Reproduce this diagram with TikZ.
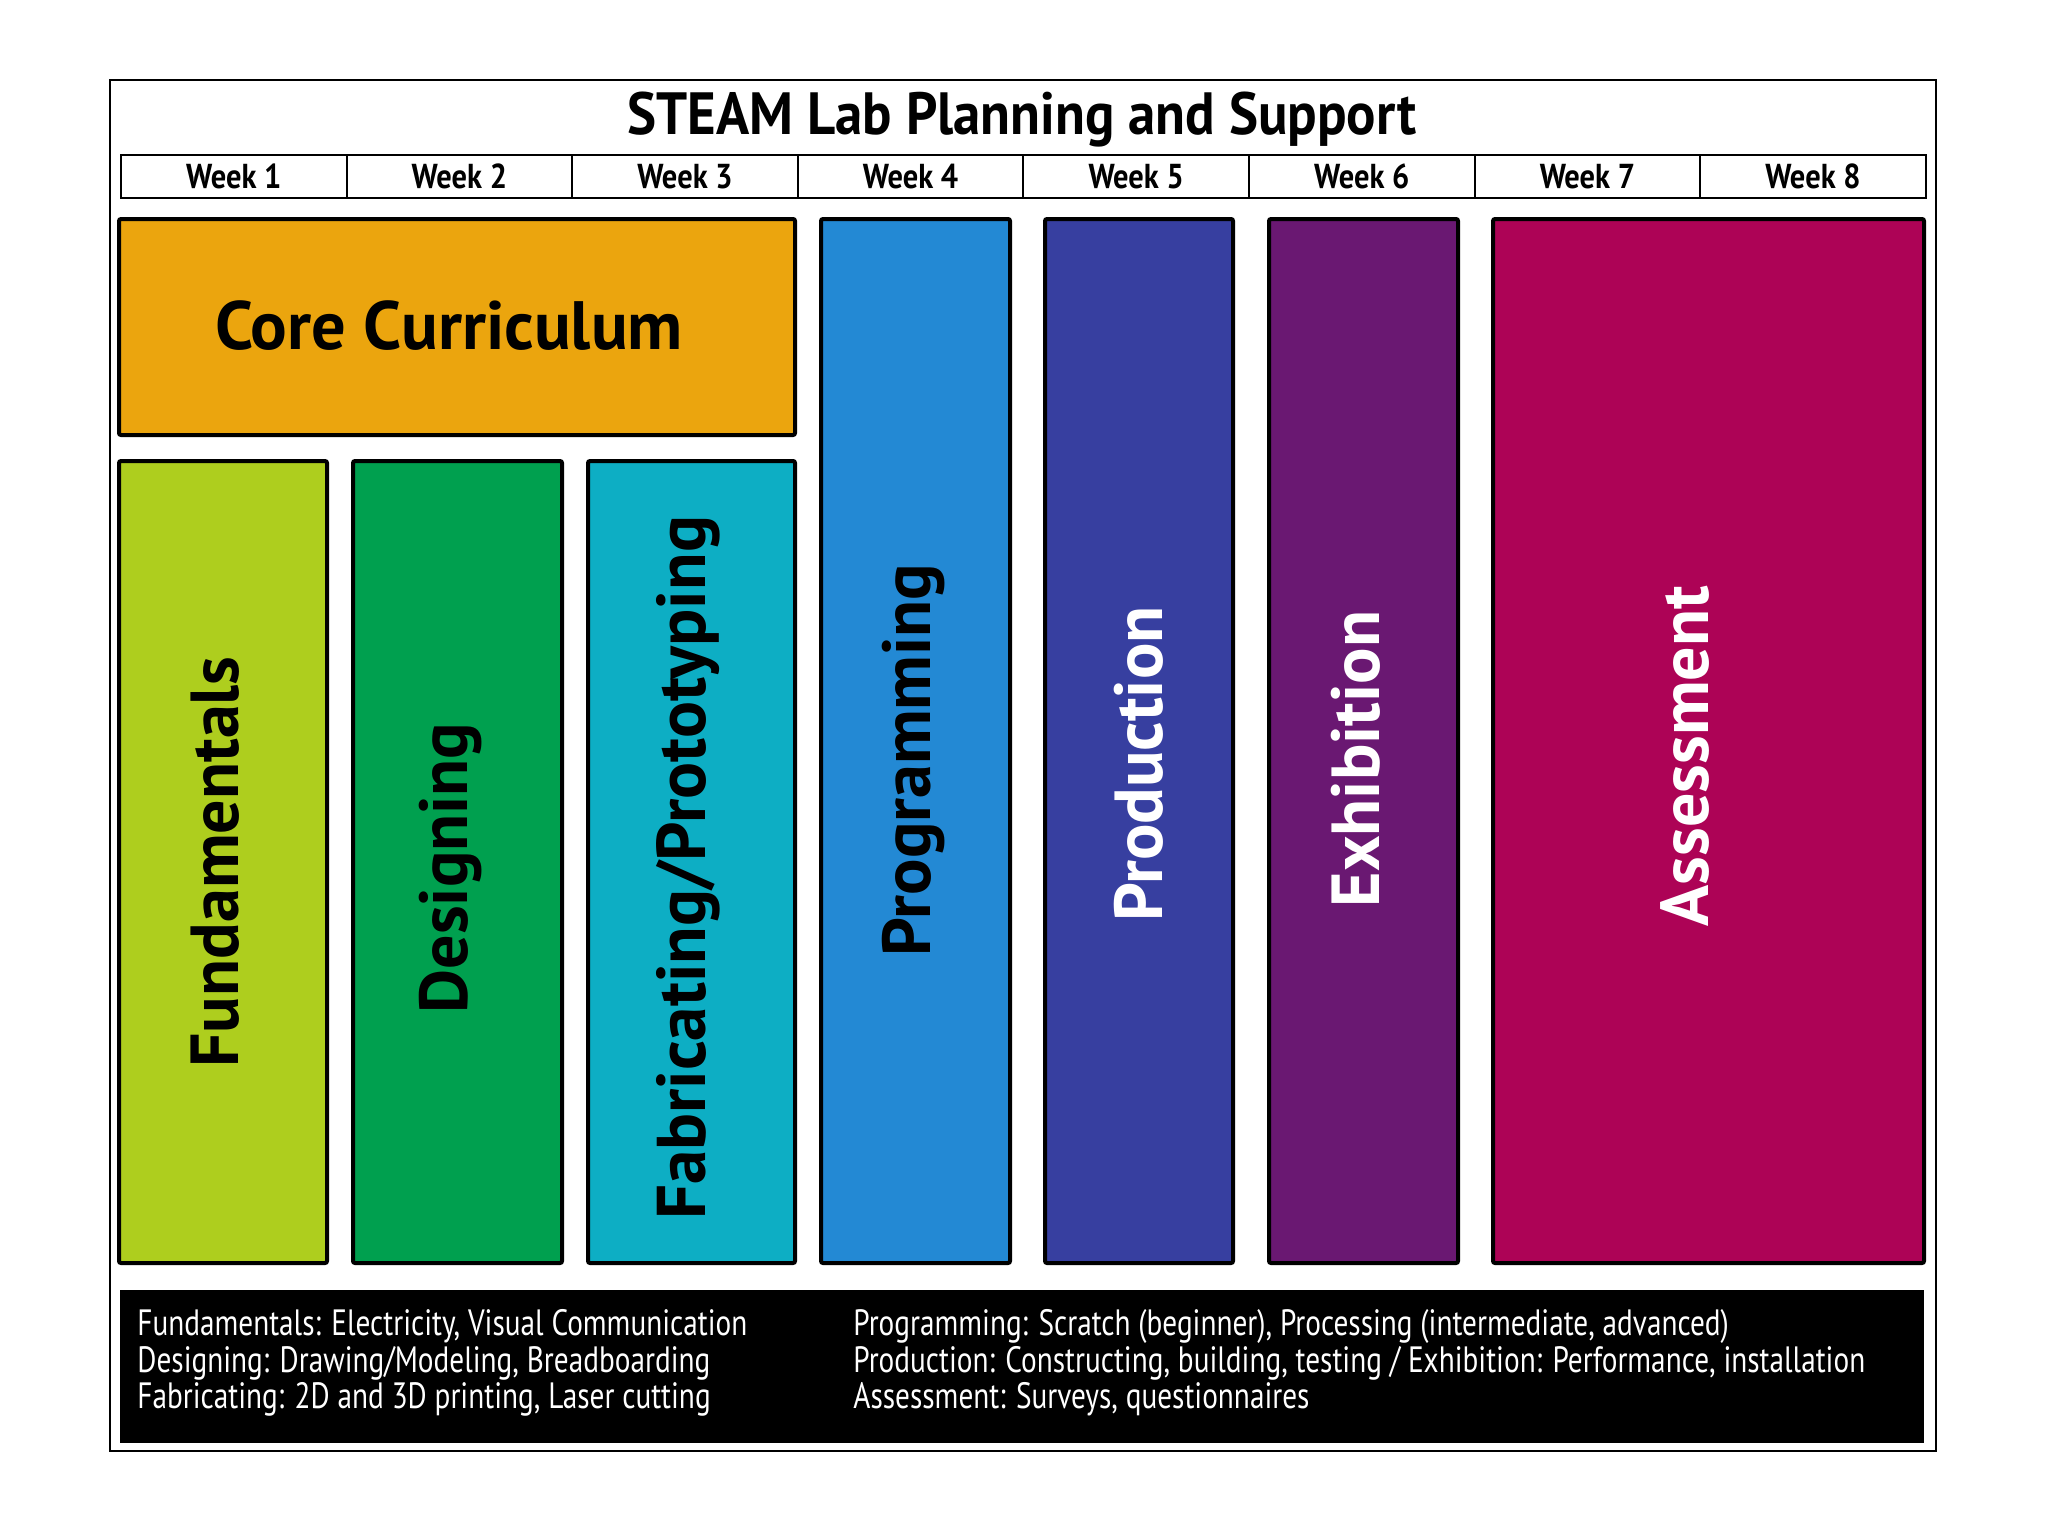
\documentclass[tikz,border=0pt]{standalone}
\usepackage{fontspec}
\setmainfont{PT Sans}
\newfontfamily\condfont[FakeStretch=0.8]{PT Sans}
\newfontfamily\weekfont[FakeStretch=0.88]{PT Sans}
\newfontfamily\semifont[FakeStretch=0.92]{PT Sans}
\usetikzlibrary{fit}
\definecolor{cOrange}{RGB}{235,165,14}
\definecolor{cLime}{RGB}{174,206,30}
\definecolor{cGreen}{RGB}{0,160,79}
\definecolor{cCyan}{RGB}{13,174,196}
\definecolor{cBlue}{RGB}{35,137,212}
\definecolor{cIndigo}{RGB}{55,63,160}
\definecolor{cPurple}{RGB}{106,24,114}
\definecolor{cMagenta}{RGB}{173,3,86}
\tikzset{
  block/.style={draw=black, line width=2pt, rounded corners=1pt, inner sep=0pt},
  weekcell/.style={draw=black, line width=1pt, inner sep=0pt, minimum width=112.8pt, minimum height=21.5pt, font=\weekfont\bfseries\fontsize{17.3}{19}\selectfont},
  vlabel/.style={rotate=90, font=\bfseries\fontsize{34}{36}\selectfont, inner sep=0pt},
  legtext/.style={anchor=west, inner sep=0pt, text=white, font=\condfont\fontsize{18.3}{20}\selectfont},
}
\begin{document}
\begin{tikzpicture}[x=0.5pt,y=-0.5pt]
\useasboundingbox (0,0) rectangle (2048,1536);
\fill[white] (0,0) rectangle (2048,1536);
% outer frame
\node[draw=black, line width=1.2pt, inner sep=0pt, fit={(110,80)(1936,1451)}] (frame) {};
% title
\node[font=\semifont\bfseries\fontsize{29.8}{32}\selectfont, inner sep=0pt] (title) at (1022,120) {STEAM Lab Planning and Support};
% weeks
\foreach \i in {1,...,8} {
  \node[weekcell, anchor=north west] (w\i) at ({120+(\i-1)*225.6},154) {Week \i};
}
% blocks
\node[block, fill=cOrange, fit={(119,219)(795,435)}] (core) {};
\node[block, fill=cLime, fit={(119,461)(327,1263)}] (fund) {};
\node[block, fill=cGreen, fit={(353,461)(562,1263)}] (des) {};
\node[block, fill=cCyan, fit={(588,461)(795,1263)}] (fab) {};
\node[block, fill=cBlue, fit={(821,219)(1010,1263)}] (prog) {};
\node[block, fill=cIndigo, fit={(1045,219)(1233,1263)}] (prod) {};
\node[block, fill=cPurple, fit={(1269,219)(1458,1263)}] (exh) {};
\node[block, fill=cMagenta, fit={(1493,219)(1924,1263)}] (ass) {};
% labels
\node[font=\bfseries\fontsize{34.2}{37}\selectfont, inner sep=0pt] (coreT) at (449,326) {Core Curriculum};
\node[vlabel] (fundT) at (215,862) {Fundamentals};
\node[vlabel] (desT) at (451,868) {Designing};
\node[vlabel, font=\bfseries\fontsize{34.5}{36}\selectfont] (fabT) at (688,868) {Fabricating/Prototyping};
\node[vlabel] (progT) at (914,760) {Programming};
\node[vlabel, text=white] (prodT) at (1139,764) {Production};
\node[vlabel, text=white] (exhT) at (1356,759) {Exhibition};
\node[vlabel, text=white] (assT) at (1685,756) {Assessment};
% legend
\node[fill=black, inner sep=0pt, fit={(120,1290)(1924,1443)}] (legend) {};
\node[legtext] (l1) at (137,1326) {Fundamentals: Electricity, Visual Communication};
\node[legtext] (l2) at (137,1363) {Designing: Drawing/Modeling, Breadboarding};
\node[legtext] (l3) at (137,1399) {Fabricating: 2D and 3D printing, Laser cutting};
\node[legtext] (r1) at (853,1326) {Programming: Scratch (beginner), Processing (intermediate, advanced)};
\node[legtext] (r2) at (853,1363) {Production: Constructing, building, testing / Exhibition: Performance, installation};
\node[legtext] (r3) at (853,1399) {Assessment: Surveys, questionnaires};
\end{tikzpicture}
\end{document}
